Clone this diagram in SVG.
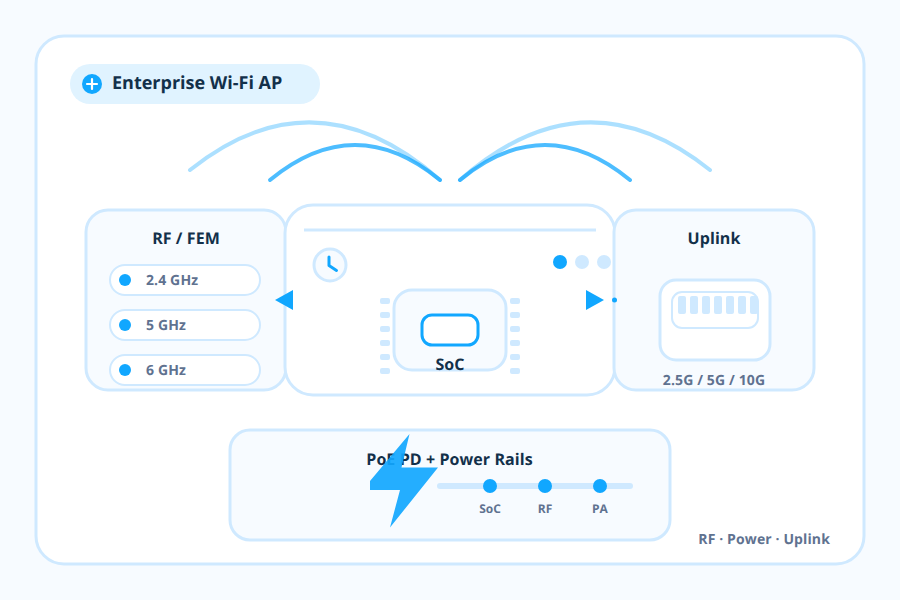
<svg xmlns="http://www.w3.org/2000/svg" width="900" height="600" viewBox="0 0 900 600">
<style>
text{font-family:"Open Sans","Noto Sans","Liberation Sans",sans-serif;font-weight:700;text-rendering:geometricPrecision}
.card{fill:#F7FBFF;stroke:#CFE9FF;stroke-width:3}
.white{fill:#FFFFFF;stroke:#CFE9FF;stroke-width:3}
.row{fill:#FFFFFF;stroke:#CFE9FF;stroke-width:2}
.title{font-size:16px;fill:#12304A;text-anchor:middle;letter-spacing:.08px}
.sub{font-size:14px;fill:#5F7290;letter-spacing:.12px}
.small{font-size:12px;fill:#5F7290;text-anchor:middle}
.mid{text-anchor:middle}
.blue{fill:#11A7FF}
.pale{fill:#CFE9FF}
.arcA{fill:none;stroke:#11A7FF;stroke-width:4;stroke-linecap:round;opacity:.35}
.arcB{fill:none;stroke:#11A7FF;stroke-width:4;stroke-linecap:round;opacity:.75}
</style>
<rect width="900" height="600" fill="#F7FBFF"/>
<rect id="frame" x="36" y="36" width="828" height="528" rx="28" fill="#FFFFFF" stroke="#CFE9FF" stroke-width="3"/>
<g id="badge">
<rect x="70" y="64" width="250" height="40" rx="20" fill="#E0F3FF"/>
<circle class="blue" cx="92" cy="84" r="10"/>
<path d="M87 84H97M92 79V89" stroke="#FFFFFF" stroke-width="2.200" stroke-linecap="round" fill="none"/>
<text x="112" y="89" font-size="18" fill="#12304A">Enterprise Wi-Fi AP</text>
</g>
<g id="connectors">
<path class="arcB" d="M270 180Q355 110 440 180"/>
<path class="arcA" d="M190 170Q315 70 440 180"/>
<path class="arcB" d="M460 180Q545 110 630 180"/>
<path class="arcA" d="M460 180Q585 70 710 170"/>
</g>
<g id="rf-fem">
<rect class="card" x="86" y="210" width="200" height="180" rx="22"/>
<text class="title" x="186" y="244">RF / FEM</text>
<rect class="row" x="110" y="265" width="150" height="30" rx="15"/>
<circle class="blue" cx="125" cy="280" r="6"/>
<text class="sub" x="146" y="285">2.4 GHz</text>
<rect class="row" x="110" y="310" width="150" height="30" rx="15"/>
<circle class="blue" cx="125" cy="325" r="6"/>
<text class="sub" x="146" y="330">5 GHz</text>
<rect class="row" x="110" y="355" width="150" height="30" rx="15"/>
<circle class="blue" cx="125" cy="370" r="6"/>
<text class="sub" x="146" y="375">6 GHz</text>
</g>
<g id="ap-board">
<rect class="white" x="285" y="205" width="330" height="190" rx="28"/>
<path d="M304 230H596" stroke="#CFE9FF" stroke-width="3" fill="none"/>
<circle cx="330" cy="265" r="16" fill="#F7FBFF" stroke="#CFE9FF" stroke-width="3"/>
<path d="M329 257V265.500L336.500 270.500" fill="none" stroke="#11A7FF" stroke-width="3" stroke-linecap="round" stroke-linejoin="round"/>
<circle class="blue" cx="560" cy="262" r="7"/>
<circle class="pale" cx="582" cy="262" r="7"/>
<circle class="pale" cx="604" cy="262" r="7"/>
</g>
<g id="uplink">
<rect class="card" x="614" y="210" width="200" height="180" rx="22"/>
<text class="title" x="714" y="244">Uplink</text>
<rect class="white" x="660" y="280" width="110" height="80" rx="16"/>
<rect x="672" y="292" width="86" height="36" rx="10" fill="#FFFFFF" stroke="#CFE9FF" stroke-width="2"/>
<g class="pale">
<rect x="678" y="296" width="8" height="18" rx="2"/>
<rect x="690" y="296" width="8" height="18" rx="2"/>
<rect x="702" y="296" width="8" height="18" rx="2"/>
<rect x="714" y="296" width="8" height="18" rx="2"/>
<rect x="726" y="296" width="8" height="18" rx="2"/>
<rect x="738" y="296" width="8" height="18" rx="2"/>
<rect x="750" y="296" width="8" height="18" rx="2"/>
</g>
<text class="sub mid" x="714" y="385">2.5G / 5G / 10G</text>
</g>
<g id="links">
<polygon class="blue" points="275,300 293,290 293,310"/>
<polygon class="blue" points="586,290 586,310 604,300"/>
<circle class="blue" cx="614.500" cy="300" r="2.500"/>
</g>
<g id="soc">
<g class="pale">
<rect x="380" y="298" width="10" height="6" rx="2"/><rect x="380" y="312" width="10" height="6" rx="2"/><rect x="380" y="326" width="10" height="6" rx="2"/><rect x="380" y="340" width="10" height="6" rx="2"/><rect x="380" y="354" width="10" height="6" rx="2"/><rect x="380" y="368" width="10" height="6" rx="2"/>
<rect x="510" y="298" width="10" height="6" rx="2"/><rect x="510" y="312" width="10" height="6" rx="2"/><rect x="510" y="326" width="10" height="6" rx="2"/><rect x="510" y="340" width="10" height="6" rx="2"/><rect x="510" y="354" width="10" height="6" rx="2"/><rect x="510" y="368" width="10" height="6" rx="2"/>
</g>
<rect class="card" x="394" y="290" width="112" height="80" rx="18"/>
<rect x="422" y="315" width="56" height="30" rx="10" fill="#FFFFFF" stroke="#11A7FF" stroke-width="3"/>
<text class="title" x="450" y="370">SoC</text>
</g>
<g id="power">
<rect class="card" x="230" y="430" width="440" height="110" rx="20"/>
<text class="title" x="449.500" y="465">PoE PD + Power Rails</text>
<polygon points="409.500,434 370,481 370,490 400,490 390,527.500 438,467.500 401.500,467.500" fill="#11A7FF" opacity=".92"/>
<rect class="pale" x="437" y="483" width="196" height="6" rx="3"/>
<circle class="blue" cx="490" cy="486" r="7"/>
<circle class="blue" cx="545" cy="486" r="7"/>
<circle class="blue" cx="600" cy="486" r="7"/>
<text class="small" x="490" y="513">SoC</text>
<text class="small" x="545" y="513">RF</text>
<text class="small" x="600" y="513">PA</text>
</g>
<text id="legend" class="sub" x="830" y="544" text-anchor="end">RF · Power · Uplink</text>
</svg>
